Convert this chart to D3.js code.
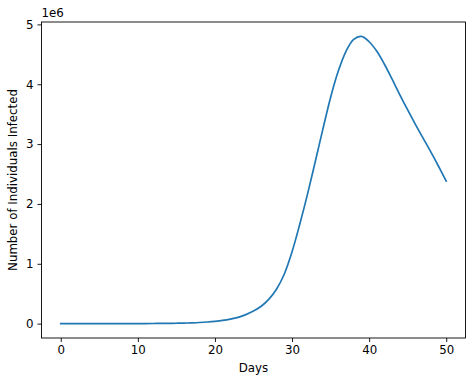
<!DOCTYPE html>
<html>
<head>
<meta charset="utf-8">
<script src="https://cdn.jsdelivr.net/npm/d3@7/dist/d3.min.js"></script>
<style>
  html, body { margin: 0; padding: 0; background: #fff; }
  svg { display: block; }
  text { font-family: "DejaVu Sans", sans-serif; fill: #000; }
</style>
</head>
<body>
<div id="chart"></div>
<script>
// Days 0..50
const days = d3.range(0, 51);
// Number of individuals infected
const infected = [
  40, 50, 80, 110, 150, 220, 300, 430, 600, 850,
  1200, 1700, 2400, 3400, 4800, 6800, 9600, 13500, 19000, 27000,
  38000, 53000, 75000, 105000, 150000, 210000, 290000, 410000, 580000, 830000,
  1200000, 1660000, 2160000, 2700000, 3250000, 3780000, 4220000, 4550000, 4750000, 4800000,
  4710000, 4550000, 4330000, 4080000, 3820000, 3570000, 3330000, 3100000, 2870000, 2630000,
  2380000
];
const xTicks = [0, 10, 20, 30, 40, 50];
const yTicks = [0, 1e6, 2e6, 3e6, 4e6, 5e6];
const xLabel = "Days";
const yLabel = "Number of Individuals Infected";
const offsetLabel = "1e6";

const W = 474, H = 383;
const mLeft = 41.5, mRight = 465.5, mTop = 22, mBottom = 338;

const svg = d3.select("#chart").append("svg")
  .attr("width", W).attr("height", H);

const x = d3.scaleLinear().domain([-2.5, 52.5]).range([mLeft, mRight]);
const yMax = d3.max(infected);
const y = d3.scaleLinear().domain([-0.05 * yMax, yMax * 1.05]).range([mBottom, mTop]);

const fs = 11.8;

// line
const data = days.map((d, i) => ({ d, v: infected[i] }));
svg.append("path")
  .datum(data)
  .attr("fill", "none")
  .attr("stroke", "#1f77b4")
  .attr("stroke-width", 1.7)
  .attr("stroke-linejoin", "round")
  .attr("stroke-linecap", "square")
  .attr("d", d3.line().x(p => x(p.d)).y(p => y(p.v)).curve(d3.curveCatmullRom.alpha(0.5)));

// axes
const xAxis = d3.axisBottom(x).tickValues(xTicks).tickSize(4).tickPadding(4).tickFormat(d3.format("d"));
const yAxis = d3.axisLeft(y).tickValues(yTicks).tickSize(4).tickPadding(4).tickFormat(v => d3.format("d")(v / 1e6));

const gx = svg.append("g").attr("transform", `translate(0,${mBottom})`).call(xAxis);
const gy = svg.append("g").attr("transform", `translate(${mLeft},0)`).call(yAxis);
[gx, gy].forEach(g => {
  g.select(".domain").remove();
  g.selectAll(".tick line").attr("stroke", "#000").attr("stroke-width", 0.9);
  g.selectAll(".tick text").attr("font-size", fs).attr("font-family", "DejaVu Sans").attr("fill", "#000");
});

// frame
svg.append("rect")
  .attr("x", mLeft).attr("y", mTop)
  .attr("width", mRight - mLeft).attr("height", mBottom - mTop)
  .attr("fill", "none").attr("stroke", "#000").attr("stroke-width", 0.9);

// labels
svg.append("text")
  .attr("x", (mLeft + mRight) / 2).attr("y", 372)
  .attr("text-anchor", "middle").attr("font-size", fs)
  .text(xLabel);

svg.append("text")
  .attr("transform", `translate(17,${(mTop + mBottom) / 2}) rotate(-90)`)
  .attr("text-anchor", "middle").attr("font-size", fs)
  .text(yLabel);

svg.append("text")
  .attr("x", mLeft).attr("y", 17)
  .attr("font-size", fs)
  .text(offsetLabel);
</script>
</body>
</html>
